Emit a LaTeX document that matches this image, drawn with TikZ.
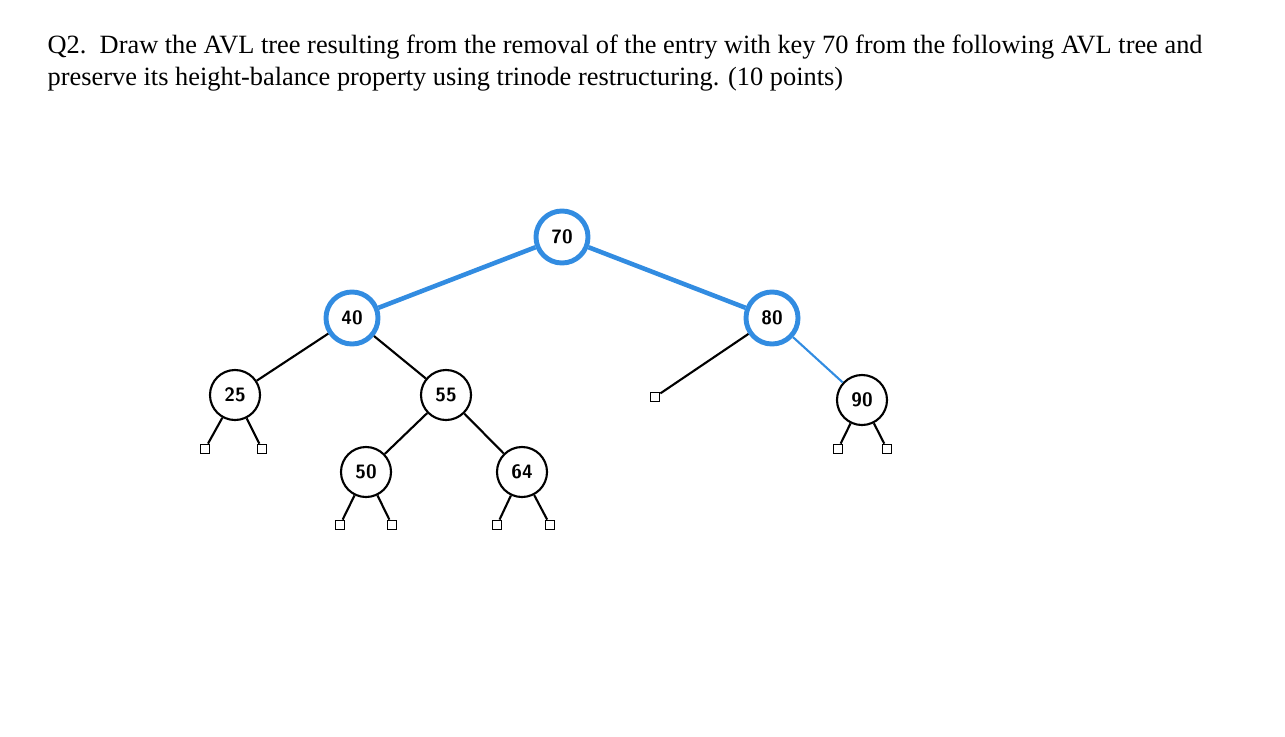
\documentclass[tikz,border=0pt]{standalone}
\usepackage{fontspec}
\setmainfont{Liberation Serif}
\definecolor{avlblue}{RGB}{50,140,225}
\begin{document}
\begin{tikzpicture}[x=0.01cm,y=-0.01cm,
  blu/.style={circle,draw=avlblue,line width=1.4pt,fill=white,minimum size=0.52cm,inner sep=0pt,font=\fontsize{5.5}{6}\selectfont\sffamily\bfseries},
  blk/.style={circle,draw=black,line width=0.6pt,fill=white,minimum size=0.5cm,inner sep=0pt,font=\fontsize{5.5}{6}\selectfont\sffamily\bfseries},
  leaf/.style={rectangle,draw=black,line width=0.5pt,fill=white,minimum size=0.09cm,inner sep=0pt},
  bl/.style={draw=avlblue,line width=1.3pt},
  e/.style={draw=black,line width=0.6pt}]
\useasboundingbox (0,0) rectangle (1285,736);
\node[anchor=base west,inner sep=0pt,font=\fontsize{7.5}{9}\selectfont] (t1) at (47,53) {Q2.\ \ Draw the AVL tree resulting from the removal of the entry with key 70 from the following AVL tree and};
\node[anchor=base west,inner sep=0pt,font=\fontsize{7.5}{9}\selectfont] (t2) at (47,85) {preserve its height-balance property using trinode restructuring. (10 points)};
\node[blu] (n70) at (562,237) {70};
\node[blu] (n40) at (352,318) {40};
\node[blu] (n80) at (772,318) {80};
\node[blk] (n25) at (235,395) {25};
\node[blk] (n55) at (446,395) {55};
\node[blk] (n90) at (862,400) {90};
\node[blk] (n50) at (366,472) {50};
\node[blk] (n64) at (522,472) {64};
\node[leaf] (l1) at (205,449) {};
\node[leaf] (l2) at (262,449) {};
\node[leaf] (l3) at (655,397) {};
\node[leaf] (l4) at (838,449) {};
\node[leaf] (l5) at (887,449) {};
\node[leaf] (l6) at (340,525) {};
\node[leaf] (l7) at (392,525) {};
\node[leaf] (l8) at (497,525) {};
\node[leaf] (l9) at (550,525) {};
\draw[bl] (n70) -- (n40);
\draw[bl] (n70) -- (n80);
\draw[draw=avlblue,line width=0.6pt] (n80) -- (n90);
\draw[e] (n40) -- (n25);
\draw[e] (n40) -- (n55);
\draw[e] (n55) -- (n50);
\draw[e] (n55) -- (n64);
\draw[e] (n80) -- (l3);
\draw[e] (n25) -- (l1); \draw[e] (n25) -- (l2);
\draw[e] (n90) -- (l4); \draw[e] (n90) -- (l5);
\draw[e] (n50) -- (l6); \draw[e] (n50) -- (l7);
\draw[e] (n64) -- (l8); \draw[e] (n64) -- (l9);
\end{tikzpicture}
\end{document}
